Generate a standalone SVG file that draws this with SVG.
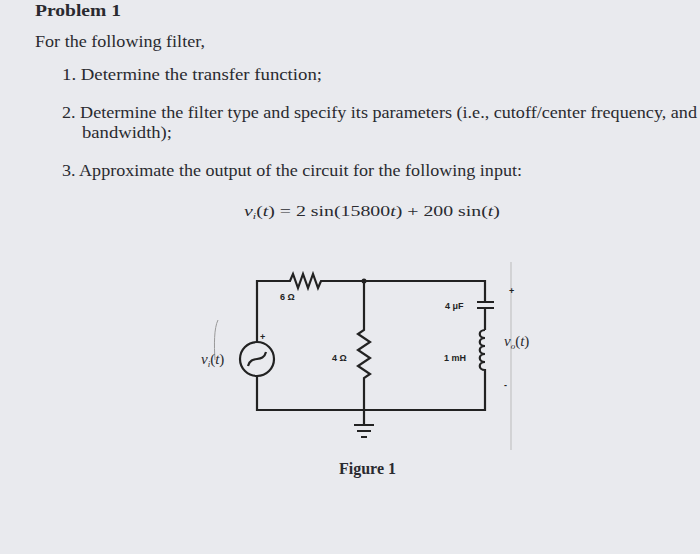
<svg xmlns="http://www.w3.org/2000/svg" width="700" height="554" viewBox="0 0 700 554">
<style>
.t{font-family:"Liberation Serif",serif;font-size:16px;fill:#2a2a30}
.m{font-family:"Liberation Serif",serif;font-style:italic;font-size:15px;fill:#2a2a30}
.s{font-family:"Liberation Sans",sans-serif;font-weight:bold;font-size:9px;fill:#222}
.w{fill:none;stroke:#222;stroke-width:2.2}
</style>
<rect width="700" height="554" fill="#e9eaee"/>
<text class="t" x="35" y="16" font-weight="bold" textLength="86" lengthAdjust="spacingAndGlyphs">Problem 1</text>
<text class="t" x="35" y="47" textLength="170" lengthAdjust="spacingAndGlyphs">For the following filter,</text>
<text class="t" x="62" y="80" textLength="260" lengthAdjust="spacingAndGlyphs">1.  Determine the transfer function;</text>
<text class="t" x="62" y="118" textLength="635" lengthAdjust="spacingAndGlyphs">2.  Determine the filter type and specify its parameters (i.e., cutoff/center frequency, and</text>
<text class="t" x="82" y="138" textLength="90" lengthAdjust="spacingAndGlyphs">bandwidth);</text>
<text class="t" x="62" y="176" textLength="460" lengthAdjust="spacingAndGlyphs">3.  Approximate the output of the circuit for the following input:</text>
<text class="m" x="244" y="216" textLength="256" lengthAdjust="spacingAndGlyphs">v<tspan font-size="9" dy="3">i</tspan><tspan dy="-3" font-style="normal">(</tspan>t<tspan font-style="normal">) = 2 sin(15800</tspan>t<tspan font-style="normal">) + 200 sin(</tspan>t<tspan font-style="normal">)</tspan></text>
<g id="connectors">
<path class="w" d="M257 342V281H290l3-7 5 14 5-14 5 14 5-14 5 14 3-7H485V302M477 302H494M477 308H494M485 308V330"/>
<path class="w" d="M485 330c-7 0-7 8 0 8c-7 0-7 8 0 8c-7 0-7 8 0 8c-7 0-7 8 0 8c-7 0-7 8 0 8V410H257V376"/>
<path class="w" d="M364 281V330l-6 4 12 8-12 8 12 8-12 8 12 8-6 4V425"/>
<path class="w" d="M354 425H374M357 431H371M361 437H367"/>
<circle cx="364" cy="281" r="2.5" fill="#222"/>
<path d="M511 262V450" stroke="#bbb" stroke-width="1"/>
<path d="M218 320c-4 8-4 25-3 40" stroke="#999" fill="none"/>
</g>
<g id="source"><circle class="w" cx="257" cy="359" r="17"/><path class="w" d="M248 366c3-12 15-2 18-14" stroke-width="1.8"/><text class="s" x="260" y="340">+</text></g>
<g id="labels">
<text class="s" x="280" y="300">6 Ω</text>
<text class="s" x="445" y="309">4 μF</text>
<text class="s" x="332" y="361">4 Ω</text>
<text class="s" x="444" y="361">1 mH</text>
<text class="m" x="201" y="364">v<tspan font-size="9" dy="3">i</tspan><tspan dy="-3" font-style="normal">(</tspan>t<tspan font-style="normal">)</tspan></text>
<text class="m" x="504" y="346">v<tspan font-size="9" dy="3">o</tspan><tspan dy="-3" font-style="normal">(</tspan>t<tspan font-style="normal">)</tspan></text>
<text class="s" x="509" y="294">+</text>
<text class="s" x="504" y="388">-</text>
<text class="t" x="339" y="474" font-size="11" font-weight="bold">Figure 1</text>
</g>
</svg>
